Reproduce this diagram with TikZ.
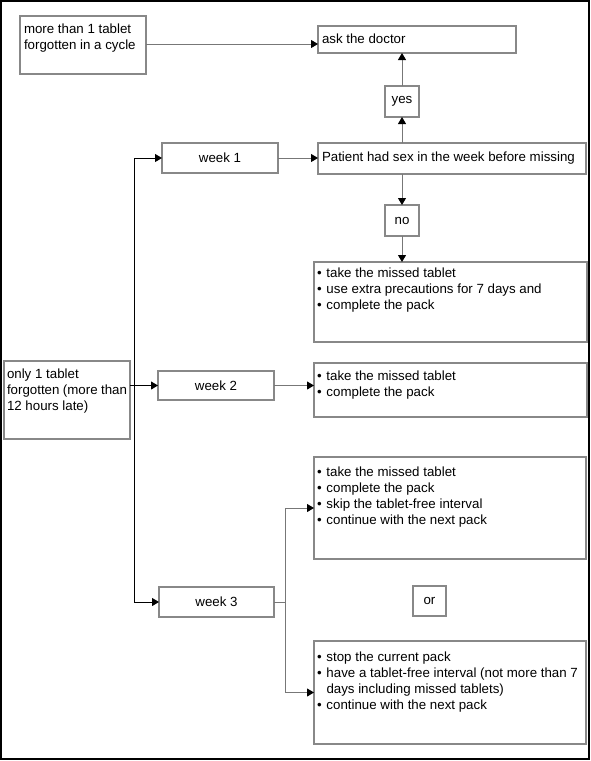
\documentclass[tikz,border=0pt]{standalone}
\usepackage{fontspec}
\setmainfont{Liberation Sans}
\usetikzlibrary{arrows.meta}
\definecolor{bd}{HTML}{888888}
\definecolor{ln}{HTML}{777777}
\newcommand\tbox[4]{\parbox[c][#2pt][t]{#1pt}{\raggedright\vspace*{\dimexpr#3pt-11.2pt\relax}\strut #4}}
\newcommand\bl{\makebox[9.5pt][l]{•}}
\begin{document}
\begin{tikzpicture}[x=1pt,y=-1pt,
  every node/.style={font=\fontsize{13.3}{16}\selectfont},
  tb/.style={draw=bd,line width=1.3pt,anchor=north west,inner ysep=0pt,inner xsep=#1,outer sep=0pt},
  tb/.default=3pt,
  cb/.style={draw=bd,line width=1.3pt,anchor=north west,inner sep=0pt,outer sep=0pt},
  arr/.style={-{Triangle[length=7pt,width=8pt,color=black]},line width=1pt,draw=ln},
  trk/.style={line width=1pt,draw=black},
  ]
\useasboundingbox (0,0) rectangle (591,761);
\draw[line width=2.2pt,black] (1,1) rectangle (589,759);

% boxes
\node[tb=4pt] (m1) at (20,16) {\tbox{118}{58}{17}{more than 1 tablet\\forgotten in a cycle}};
\node[tb=4pt] (ask) at (318,26) {\tbox{190}{27}{17}{ask the doctor}};
\node[cb,minimum width=34pt,minimum height=31pt] (yes) at (385,86) {yes};
\node[tb=4pt] (pat) at (318,143) {\tbox{260}{31}{18}{Patient had sex in the week before missing}};
\node[cb,minimum width=34pt,minimum height=31pt] (no) at (385,205) {no};
\node[tb=3pt] (b1) at (314,262) {\tbox{267}{80}{15}{\bl take the missed tablet\\\bl use extra precautions for 7 days and\\\bl complete the pack}};
\node[cb,minimum width=116pt,minimum height=30pt] (w1) at (162,143) {week 1};
\node[tb=3pt] (o1) at (4,361) {\tbox{120}{78}{17}{only 1 tablet\\forgotten (more than\\12 hours late)}};
\node[cb,minimum width=116pt,minimum height=29pt] (w2) at (158,371) {week 2};
\node[tb=3pt] (b2) at (314,363) {\tbox{267}{54}{17}{\bl take the missed tablet\\\bl complete the pack}};
\node[tb=3pt] (b3) at (314,457) {\tbox{266}{102}{19}{\bl take the missed tablet\\\bl complete the pack\\\bl skip the tablet-free interval\\\bl continue with the next pack}};
\node[cb,minimum width=33pt,minimum height=30pt] (or) at (413,586) {or};
\node[cb,minimum width=115pt,minimum height=30pt] (w3) at (159,587) {week 3};
\node[tb=3pt] (b4) at (314,641) {\tbox{266}{103}{20}{\bl stop the current pack\\\bl have a tablet-free interval (not more than 7\\\hspace*{9.5pt}days including missed tablets)\\\bl continue with the next pack}};

% helper coordinates
\coordinate (tr) at (134,400);
\coordinate (br) at (285,602);

% connectors
\draw[arr] (m1.east |- 0,44) -- (ask.west |- 0,44);
\draw[arr] (pat.north -| yes.south) -- (yes.south);
\draw[arr] (yes.north) -- (yes.north |- ask.south);
\draw[arr] (w1.east) -- (w1.east -| pat.west);
\draw[arr] (pat.south -| no.north) -- (no.north);
\draw[arr] (no.south) -- (no.south |- b1.north);
\draw[arr,draw=black] (w2.west -| o1.east) -- (w2.west);
\draw[trk,-{Triangle[length=7pt,width=8pt]}] (tr) |- (w1.west);
\draw[trk,-{Triangle[length=7pt,width=8pt]}] (tr) |- (w3.west);
\draw[arr] (w2.east) -- (w2.east -| b2.west);
\draw[line width=1pt,draw=ln] (w3.east) -- (br);
\draw[arr] (br) |- (b3.west);
\draw[arr] (br) |- (b4.west);
\end{tikzpicture}
\end{document}
